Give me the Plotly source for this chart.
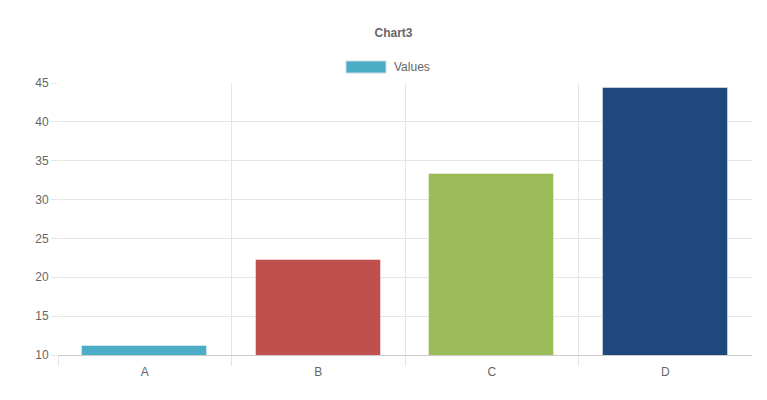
import plotly.graph_objs as go

categories = ["A", "B", "C", "D"]
values = [11.1, 22.2, 33.3, 44.4]
bar_colors = ["#4BACC6", "#C0504D", "#9BBB59", "#1F497D"]
series_name = "Values"
chart_title = "Chart3"

GRID = "#e5e5e5"
TEXT = "#666666"
FONT = "Liberation Sans, Arial, Helvetica, sans-serif"

# page body has an 8px margin, so the figure is 8px smaller and shifted
W, H = 759, 392

idx = list(range(len(categories)))

fig = go.Figure()
fig.add_trace(go.Bar(
    x=idx,
    y=values,
    name=series_name,
    width=0.72,
    marker=dict(color=bar_colors, line=dict(color="rgba(255,255,255,0.45)", width=1)),
    showlegend=False,
))

# plot area on screen: x 58..752, y 83..355
fig.update_layout(
    width=W,
    height=H,
    margin=dict(l=50, r=15, t=75, b=45),
    paper_bgcolor="white",
    plot_bgcolor="white",
    font=dict(family=FONT, size=12, color=TEXT),
    title=dict(text="<b>" + chart_title + "</b>", x=385.5 / W, xanchor="center",
               y=1 - 25 / H, yanchor="middle",
               font=dict(size=12, color=TEXT, family=FONT)),
    xaxis=dict(
        range=[-0.5, 3.5],
        tickvals=idx,
        ticktext=categories,
        showgrid=False,
        zeroline=False,
        showline=True,
        linecolor="#cccccc",
        linewidth=1,
        ticks="",
        ticklabelstandoff=6,
        minor=dict(tickvals=[-0.5, 0.5, 1.5, 2.5], showgrid=True, gridcolor=GRID,
                   gridwidth=1, ticks="outside", ticklen=10, tickcolor=GRID),
    ),
    yaxis=dict(
        range=[10, 45],
        dtick=5,
        tick0=10,
        showgrid=True,
        gridcolor=GRID,
        zeroline=False,
        showline=False,
        ticks="outside",
        ticklen=6,
        tickcolor=GRID,
    ),
    bargap=0,
)

# legend box drawn by hand (Chart.js-style wide swatch)
pw, ph = 694.0, 272.0
fig.add_shape(type="rect", xref="paper", yref="paper",
              x0=(346 - 58) / pw, x1=(386 - 58) / pw,
              y0=(355 - 73) / ph, y1=(355 - 61) / ph,
              fillcolor=bar_colors[0], line=dict(color="rgba(200,220,230,1)", width=1))
fig.add_annotation(text=series_name, xref="paper", yref="paper",
                   x=(392 - 58) / pw, y=(355 - 67) / ph,
                   xanchor="left", yanchor="middle", showarrow=False,
                   font=dict(size=12, color=TEXT, family=FONT))

fig.write_html("out.html")
